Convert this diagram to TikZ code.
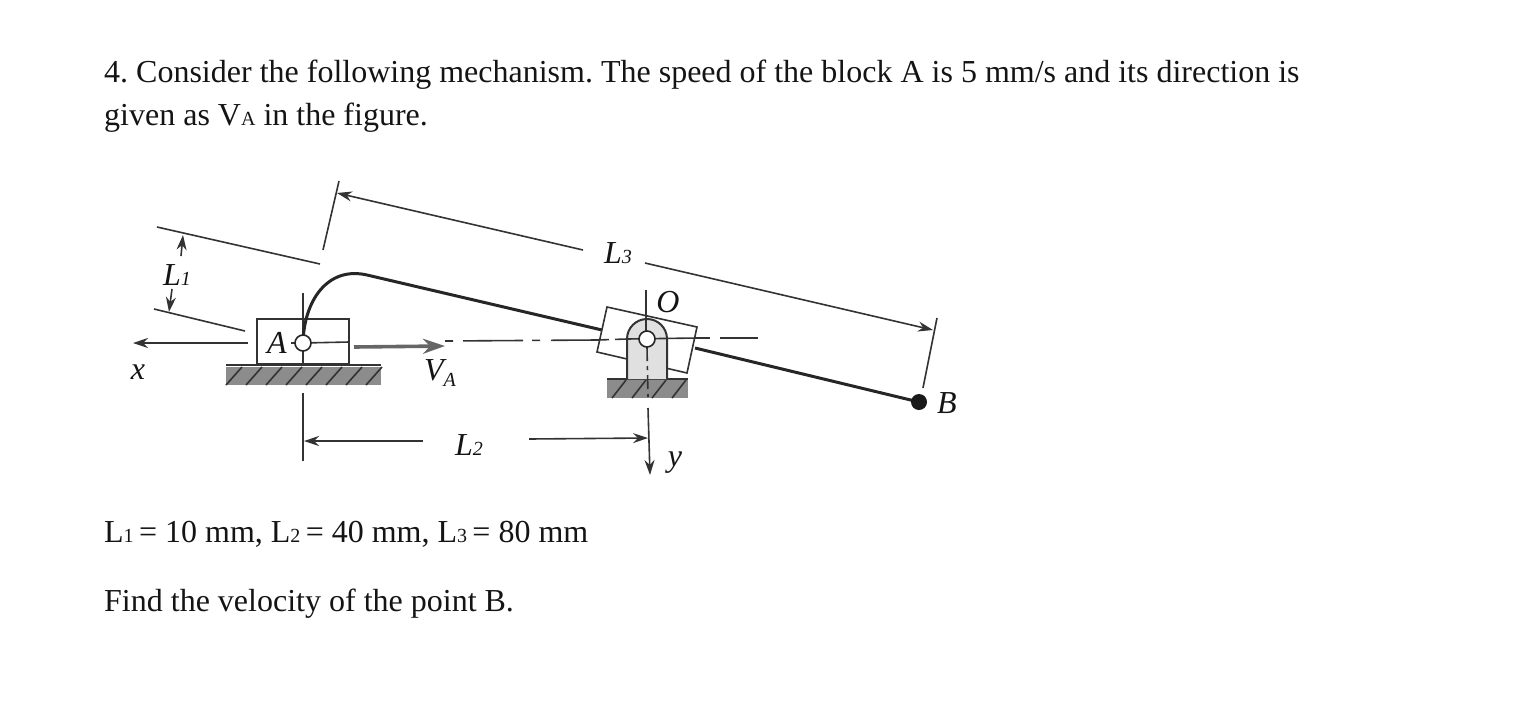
\documentclass[tikz,border=0pt]{standalone}
\usepackage{fontspec}
\usepackage{tikz}
\usetikzlibrary{arrows.meta}
\setmainfont{Liberation Serif}
\newcommand{\lowsize}[1]{{\fontsize{20}{20}\selectfont #1}}
\frenchspacing
\begin{document}
\begin{tikzpicture}[x=1pt,y=-1pt]
\tikzstyle{every node}=[inner sep=0pt,text=black!92];
\tikzstyle{question}=[anchor=base west,font=\fontsize{32}{36}\selectfont];
\tikzstyle{letter}=[font=\fontsize{32}{32}\selectfont\itshape];
\tikzstyle{thin line}=[draw=black!80,line width=1.6pt];
\tikzstyle{dim arrow}=[thin line,-{Stealth[length=15pt,width=10pt]}];
\tikzstyle{link}=[draw=black!85,line width=3pt];
\tikzstyle{pin}=[draw=black!85,line width=1.6pt,fill=white,circle,minimum size=16pt];
\useasboundingbox (0,0) rectangle (1525,713);

% text
\node[question] (line1) at (104,82) {4. Consider the following mechanism. The speed of the block A is 5 mm/s and its direction is};
\node[question] (line2) at (104,125) {given as V\lowsize{A} in the figure.};
\node[question] (line3) at (104,542) {L\lowsize{1}\,= 10 mm, L\lowsize{2}\,= 40 mm, L\lowsize{3}\,= 80 mm};
\node[question] (line4) at (104,611) {Find the velocity of the point B.};

% points
\coordinate (pinA) at (303,343);
\coordinate (pinO) at (647,339);
\coordinate (bend) at (367,275);
\coordinate (linkL) at (602,330);
\coordinate (linkR) at (695,348);

% ground
\fill[black!45] (226,367) rectangle (381,385);
\fill[black!45] (607,380) rectangle (688,398);
\foreach \x in {226,246,...,366}
	\draw[black!80,line width=1.6pt] (\x,385) -- (\x+16,367);
\foreach \x in {612,632,652,672}
	\draw[black!80,line width=1.6pt] (\x,398) -- (\x+14,380);
\draw[thin line,line width=2pt] (226,365) -- (381,365);
\draw[thin line,line width=2pt] (607,379) -- (688,379);

% block A
\node[draw=black!80,line width=1.6pt,minimum width=92pt,minimum height=45pt] (blockA) at (303,341.5) {};
\node[letter] (labelA) at (277,343) {A};
\draw[thin line] (303,293) -- (pinA);
\draw[thin line] (pinA) -- (303,364);
\draw[thin line] (pinA) -- (349,342);
\draw[thin line] (291,343) -- (pinA);
\draw[thin line] (303,393) -- (303,461);

% link
\draw[link] (pinA) .. controls (304,300) and (328,266) .. (bend) -- (linkL);
\draw[link] (linkR) -- (919,402);
\node[pin] (circA) at (pinA) {};
\node[circle,fill=black!90,minimum size=16pt] (pointB) at (919,402) {};
\node[letter] (labelB) at (947,403) {B};

% slider and bracket
\draw[thin line,fill=white] (607,307) coordinate (s1) -- (697,327) coordinate (s2) -- (687,373) coordinate (s3) -- (597,352) coordinate (s4) -- cycle;
\draw[thin line,dash pattern=on 8pt off 10pt on 60pt off 9pt on 8pt off 11pt on 49pt] (445,341) -- (597,340);
\draw[thin line,dash pattern=on 13pt off 10pt on 38pt] (697,338) -- (758,338);
\draw[thin line,dash pattern=on 12pt off 6pt] (597,340) -- (627,339);
\draw[thin line,fill=black!12,line width=2pt] (627,379) -- (627,339) arc (180:360:20) -- (667,379);
\draw[thin line] (627,339) -- (697,338);
\draw[thin line] (646,290) -- (646,331);
\draw[thin line,dash pattern=on 14pt off 5pt on 4pt off 5pt] (647,347) -- (648,397);
\node[pin] (circO) at (pinO) {};
\node[letter] (labelO) at (668,302) {O};

% axes and velocity
\draw[dim arrow] (248,343) -- (133,343);
\node[letter] (labelx) at (138,372) {x};
\draw[dim arrow] (648,408) -- (650,475);
\node[letter] (labely) at (675,463) {y};
\draw[black!60,line width=3.6pt,-{Stealth[length=22pt,width=15pt]}] (354,347) -- (445,346);
\node[letter] (labelV) at (440,373) {V\lowsize{\raisebox{-6pt}{A}}};

% dimensions
\draw[thin line] (157,227) -- (320,264);
\draw[thin line] (154,309) -- (245,331);
\node[letter] (labelLa) at (177,275) {L\lowsize{1}};
\draw[dim arrow] (181,256) -- (183,235);
\draw[dim arrow] (172,289) -- (169,312);
\node[letter] (labelLb) at (469,445) {L\lowsize{2}};
\draw[dim arrow] (423,441) -- (304,441);
\draw[dim arrow] (529,439) -- (648,438);
\node[letter] (labelLc) at (618,253) {L\lowsize{3}};
\draw[thin line] (339,181) -- (323,250);
\draw[thin line] (937,318) -- (923,388);
\draw[dim arrow] (583,250) -- (337,193);
\draw[dim arrow] (645,263) -- (933,330);
\end{tikzpicture}
\end{document}
